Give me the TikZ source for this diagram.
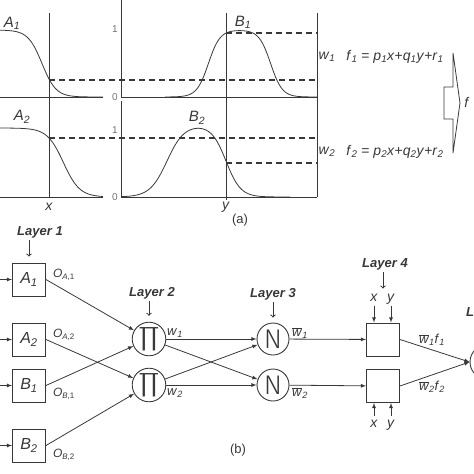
\documentclass[tikz,border=0pt]{standalone}
\usepackage{fontspec}
\setmainfont{Liberation Sans}
\newfontfamily\lightsans{Fira Sans Light}
\usepackage{tikz}
\usetikzlibrary{arrows,positioning,shapes,calc}
\definecolor{ink}{gray}{0.22}
\definecolor{softink}{gray}{0.45}
\newcommand{\lab}[2]{\textit{#1}\textsubscript{\textit{#2}}}
\newcommand{\wbar}[1]{$\overline{\mbox{\textit{w}}}$\textsubscript{\textit{#1}}}
\newcommand{\fs}[1]{\fontsize{#1}{#1}\selectfont}

\begin{document}
\begin{tikzpicture}[x=1pt,y=-1pt,
    axline/.style={ink, line width=0.9pt},
    mfcurve/.style={ink, line width=0.8pt},
    dashlevel/.style={ink, line width=1.3pt, dash pattern=on 6pt off 4pt},
    txt/.style={text=ink, font=\fs{14}, inner sep=0pt},
    axnum/.style={text=softink, font=\fs{10}, inner sep=0pt},
    layertxt/.style={text=ink, font=\fs{13}\bfseries\itshape, inner sep=0pt},
    mfbox/.style={draw=ink, line width=0.9pt, minimum size=33pt, inner sep=0pt, text=ink, font=\fs{16}},
    nodecirc/.style={draw=ink, line width=0.9pt, circle, minimum size=32pt, inner sep=0pt, text=ink, font=\lightsans\fs{27}},
    conn/.style={ink, line width=0.8pt, -latex},
    down/.style={ink, line width=1pt, ->},
]
\useasboundingbox (0,0) rectangle (474,474);

    % (a): membership functions
    \draw[axline] (0,97) -- (103,97);
    \draw[axline] (0,197) -- (103,197);
    \draw[axline] (121,0) -- (121,97) -- (317,97);
    \draw[axline] (121,101) -- (121,197) -- (317,197);
    \draw[axline] (49,13) -- (49,197);
    \draw[axline] (226,13) -- (226,200);
    \draw[axline] (317,13) -- (317,197);

    \draw[mfcurve] plot[domain=0:103, samples=80] (\x, {30+67/(1+exp(-(\x-42)/7))});
    \draw[mfcurve] plot[domain=0:103, samples=80] (\x, {197-69/(1+exp((\x-63.4)/8.1))});
    \draw[mfcurve] plot[domain=165:317, samples=120] (\x, {97-67/((1+exp(-(\x-208.4)/5.8))*(1+exp((\x-270.6)/5.8)))});
    \draw[mfcurve] plot[domain=121:290, samples=120] (\x, {197-72/((1+exp(-(\x-167)/8.5))*(1+exp((\x-226)/7.3)))});

    \draw[dashlevel] (49,80) -- (317,80);
    \draw[dashlevel] (49,138) -- (317,138);
    \draw[dashlevel] (226,33) -- (317,33);
    \draw[dashlevel] (226,163) -- (317,163);

    \node[txt, font=\fs{15}] at (12,23) {\lab{A}{1}};
    \node[txt, font=\fs{15}] at (22,117) {\lab{A}{2}};
    \node[txt, font=\fs{15}] at (243,22) {\lab{B}{1}};
    \node[txt, font=\fs{15}] at (197,118) {\lab{B}{2}};
    \node[axnum] at (115,29) {1};
    \node[axnum] at (115,97) {0};
    \node[axnum] at (115,130) {1};
    \node[axnum] at (115,197) {0};
    \node[txt] at (49,207) {\textit{x}};
    \node[txt] at (226,207) {\textit{y}};
    \node[txt, font=\fs{13}] at (240,220) {(a)};

    % rules and the combined output
    \node[txt] at (327,57) {\lab{w}{1}};
    \node[txt] at (395,57) {\lab{f}{1} = \lab{p}{1}\textit{x}+\lab{q}{1}\textit{y}+\lab{r}{1}};
    \node[txt] at (327,152) {\lab{w}{2}};
    \node[txt] at (395,152) {\lab{f}{2} = \lab{p}{2}\textit{x}+\lab{q}{2}\textit{y}+\lab{r}{2}};
    \draw[ink, line width=0.8pt] (453,53) -- (453,87) -- (444,87) -- (444,119) -- (453,119)
        -- (453,153) -- (460,103) -- cycle;
    \node[txt] at (467,102) {\textit{f}};

    % (b): Layer 1
    \node[mfbox] (A1) at (29,279.5) {\lab{A}{1}};
    \node[mfbox] (A2) at (29,339.5) {\lab{A}{2}};
    \node[mfbox] (B1) at (29,385.5) {\lab{B}{1}};
    \node[mfbox] (B2) at (29,445.5) {\lab{B}{2}};
    \foreach \n in {A1,A2,B1,B2}
        \draw[conn] ([xshift=-14pt]\n.west) -- (\n.west);
    \node[txt, font=\fs{12}] at (64,275) {\textit{O}\textsubscript{\textit{A},1}};
    \node[txt, font=\fs{12}] at (64,335) {\textit{O}\textsubscript{\textit{A},2}};
    \node[txt, font=\fs{12}] at (64,394) {\textit{O}\textsubscript{\textit{B},1}};
    \node[txt, font=\fs{12}] at (64,455) {\textit{O}\textsubscript{\textit{B},2}};
    \node[layertxt] (L1) at (40,232) {Layer 1};
    \draw[down] ($(L1.south -| A1)+(0,2)$) -- ($(A1.north)+(0,-6)$);

    % Layer 2
    \node[nodecirc] (P1) at (149,339) {\scalebox{1.5}[1]{∏}};
    \node[nodecirc] (P2) at (149,385) {\scalebox{1.5}[1]{∏}};
    \foreach \a/\b in {A1/P1, A2/P2, B1/P1, B2/P2}
        \draw[conn] (\a.east) -- (\b);
    \node[txt, font=\fs{13}] at (175,333) {\lab{w}{1}};
    \node[txt, font=\fs{13}] at (175,393) {\lab{w}{2}};
    \node[layertxt] (L2) at (152,293) {Layer 2};
    \draw[down] ($(L2.south -| P1)+(0,2)$) -- ($(P1.north)+(0,-6)$);

    % Layer 3
    \node[nodecirc] (N1) at (273,339) {N};
    \node[nodecirc] (N2) at (273,385) {N};
    \foreach \a/\b in {P1/N1, P1/N2, P2/N1, P2/N2}
        \draw[conn] (\a) -- (\b);
    \node[txt, font=\fs{13}] at (300,333) {\wbar{1}};
    \node[txt, font=\fs{13}] at (300,393) {\wbar{2}};
    \node[layertxt] (L3) at (273,294) {Layer 3};
    \draw[down] ($(L3.south)+(0,2)$) -- ($(N1.north)+(0,-5)$);

    % Layer 4
    \node[mfbox] (C1) at (383,339.5) {};
    \node[mfbox] (C2) at (383,386) {};
    \draw[conn] (N1) -- (C1);
    \draw[conn] (N2) -- (C2);
    \node[layertxt] (L4) at (385,264) {Layer 4};
    \draw[down] ($(L4.south -| C1)+(0,2)$) -- ($(C1.north)+(0,-34)$);
    \foreach \xx/\v in {374/x, 391/y} {
        \node[txt, text height=7pt, text depth=0pt] (t\v) at (\xx,298) {\textit{\v}};
        \draw[conn, shorten <=4pt] (t\v.south) -- (t\v.south |- C1.north);
        \node[txt, text height=7pt, text depth=0pt] (b\v) at (\xx,424) {\textit{\v}};
        \draw[conn, shorten <=4pt] (b\v.north) -- (b\v.north |- C2.south);
    }

    % Layer 5
    \node[draw=ink, line width=0.9pt, circle, minimum size=34pt] (S) at (487,362) {};
    \node[layertxt, anchor=west] at (466,313) {Layer 5};
    \draw[conn] (C1.east) -- (S.west);
    \draw[conn] (C2.east) -- (S.west);
    \node[txt, font=\fs{13}] at (432,340) {\wbar{1}\lab{f}{1}};
    \node[txt, font=\fs{13}] at (432,387) {\wbar{2}\lab{f}{2}};
    \node[txt, font=\fs{13}] at (238,450) {(b)};
\end{tikzpicture}
\end{document}
